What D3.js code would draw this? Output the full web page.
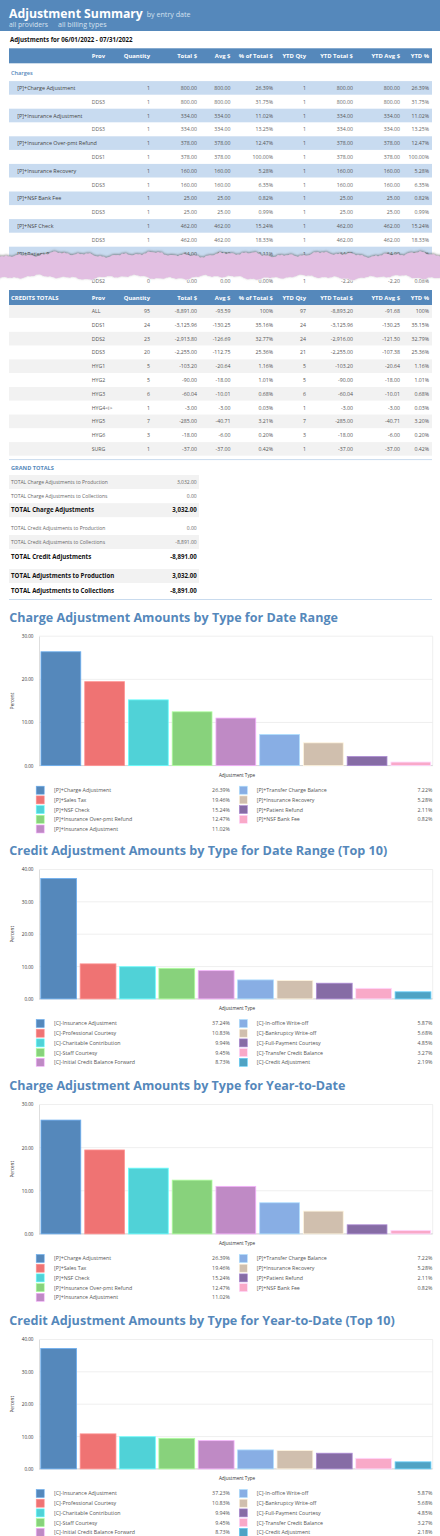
<!DOCTYPE html>
<html><head><meta charset="utf-8">
<script src="https://cdn.jsdelivr.net/npm/d3@7"></script>
<style>
html,body{margin:0;padding:0;background:#fff;}
svg{display:block;font-family:"Open Sans","Noto Sans",sans-serif;}
</style></head><body>
<svg id="c" width="440" height="1536"></svg>
<script>
// ---------------- DATA ----------------
const tableColumns = ["Prov","Quantity","Total $","Avg $","% of Total $","YTD Qty","YTD Total $","YTD Avg $","YTD %"];
const chargeCategories = ["[P]+Charge Adjustment","[P]+Insurance Adjustment","[P]+Insurance Over-pmt Refund","[P]+Insurance Recovery","[P]+NSF Bank Fee","[P]+NSF Check","[P]+Patient Refund"];
const chargeCategoryValues = [
  ["1","800.00","800.00","26.39%","1","800.00","800.00","26.39%"],
  ["1","334.00","334.00","11.02%","1","334.00","334.00","11.02%"],
  ["1","378.00","378.00","12.47%","1","378.00","378.00","12.47%"],
  ["1","160.00","160.00","5.28%","1","160.00","160.00","5.28%"],
  ["1","25.00","25.00","0.82%","1","25.00","25.00","0.82%"],
  ["1","462.00","462.00","15.24%","1","462.00","462.00","15.24%"],
  ["1","64.00","64.00","2.11%","1","64.00","64.00","2.11%"]
];
const chargeProviders = ["DDS3","DDS3","DDS1","DDS3","DDS3","DDS3"];
const chargeProviderValues = [
  ["1","800.00","800.00","31.75%","1","800.00","800.00","31.75%"],
  ["1","334.00","334.00","13.25%","1","334.00","334.00","13.25%"],
  ["1","378.00","378.00","100.00%","1","378.00","378.00","100.00%"],
  ["1","160.00","160.00","6.35%","1","160.00","160.00","6.35%"],
  ["1","25.00","25.00","0.99%","1","25.00","25.00","0.99%"],
  ["1","462.00","462.00","18.33%","1","462.00","462.00","18.33%"]
];
const afterTearProvider = "DDS2";
const afterTearValues = ["0","0.00","0.00","0.00%","1","-2.20","-2.20","0.08%"];

const creditProviders = ["ALL","DDS1","DDS2","DDS3","HYG1","HYG2","HYG3","HYG4<i>","HYG5","HYG6","SURG"];
const creditValues = [
  ["95","-8,891.00","-93.59","100%","97","-8,893.20","-91.68","100%"],
  ["24","-3,125.96","-130.25","35.16%","24","-3,125.96","-130.25","35.15%"],
  ["23","-2,913.80","-126.69","32.77%","24","-2,916.00","-121.50","32.79%"],
  ["20","-2,255.00","-112.75","25.36%","21","-2,255.00","-107.38","25.36%"],
  ["5","-103.20","-20.64","1.16%","5","-103.20","-20.64","1.16%"],
  ["5","-90.00","-18.00","1.01%","5","-90.00","-18.00","1.01%"],
  ["6","-60.04","-10.01","0.68%","6","-60.04","-10.01","0.68%"],
  ["1","-3.00","-3.00","0.03%","1","-3.00","-3.00","0.03%"],
  ["7","-285.00","-40.71","3.21%","7","-285.00","-40.71","3.20%"],
  ["3","-18.00","-6.00","0.20%","3","-18.00","-6.00","0.20%"],
  ["1","-37.00","-37.00","0.42%","1","-37.00","-37.00","0.42%"]
];

const grandLabels = ["TOTAL Charge Adjustments to Production","TOTAL Charge Adjustments to Collections","TOTAL Charge Adjustments","TOTAL Credit Adjustments to Production","TOTAL Credit Adjustments to Collections","TOTAL Credit Adjustments","TOTAL Adjustments to Production","TOTAL Adjustments to Collections"];
const grandValues = ["3,032.00","0.00","3,032.00","0.00","-8,891.00","-8,891.00","3,032.00","-8,891.00"];
const grandBold = [false,false,true,false,false,true,true,true];

const chargeLabels = ["[P]+Charge Adjustment","[P]+Sales Tax","[P]+NSF Check","[P]+Insurance Over-pmt Refund","[P]+Insurance Adjustment","[P]+Transfer Charge Balance","[P]+Insurance Recovery","[P]+Patient Refund","[P]+NSF Bank Fee"];
const chargeRangeValues = [26.39,19.46,15.24,12.47,11.02,7.22,5.28,2.11,0.82];
const chargeYtdValues = [26.39,19.46,15.24,12.47,11.02,7.22,5.28,2.11,0.82];
const creditLabels = ["[C]-Insurance Adjustment","[C]-Professional Courtesy","[C]-Charitable Contribution","[C]-Staff Courtesy","[C]-Initial Credit Balance Forward","[C]-In-office Write-off","[C]-Bankruptcy Write-off","[C]-Full-Payment Courtesy","[C]-Transfer Credit Balance","[C]-Credit Adjustment"];
const creditRangeValues = [37.24,10.83,9.94,9.45,8.73,5.87,5.68,4.85,3.27,2.19];
const creditYtdValues = [37.23,10.83,9.94,9.45,8.73,5.87,5.68,4.85,3.27,2.18];
const chargeTicks = [0,10,20,30];
const creditTicks = [0,10,20,30,40];
const barColors = ["#5588bb","#ef7373","#50d2d7","#88d27c","#bf8ac5","#88aee4","#d0bfae","#866ca5","#f9a9c8","#4fa3c4"];

// ---------------- HELPERS ----------------
const svg = d3.select("#c");
const BLUE = "#5588bb", LIGHTBLUE = "#c8dbf0", GRAY = "#f2f2f2";
function fit(sel, w){
  sel.each(function(){
    const L = this.getComputedTextLength();
    const fs = parseFloat(d3.select(this).attr("font-size"));
    if (L > 0) d3.select(this).attr("font-size", fs * w / L);
  });
  return sel;
}
function txt(g, x, y, s, o = {}){
  return g.append("text").attr("x", x).attr("y", y).text(s)
    .attr("font-size", o.fs || 5.3).attr("fill", o.fill || "#555")
    .attr("font-weight", o.fw || 400).attr("text-anchor", o.anchor || "start");
}

// ---------------- PAGE HEADER ----------------
svg.append("rect").attr("x",0).attr("y",0).attr("width",440).attr("height",31).attr("fill",BLUE);
fit(txt(svg, 9, 17.5, "Adjustment Summary", {fs:14, fill:"#fff", fw:700}), 134);
fit(txt(svg, 146.7, 17, "by entry date", {fs:7, fill:"#d3e0ef"}), 44);
fit(txt(svg, 9, 26.8, "all providers", {fs:6, fill:"#d8e3f0"}), 39);
fit(txt(svg, 58, 26.8, "all billing types", {fs:6, fill:"#d8e3f0"}), 48.7);
fit(txt(svg, 10, 42.3, "Adjustments for 06/01/2022 - 07/31/2022", {fs:6.5, fill:"#111", fw:700}), 122.7);

// ---------------- TABLE ----------------
const colX = [91.7,150,197,230.5,273,306,353,400,429];
const tX0 = 9, tX1 = 432;
function headerBand(yTop, firstLabel){
  svg.append("rect").attr("x",tX0).attr("y",yTop).attr("width",tX1-tX0).attr("height",15).attr("fill",BLUE);
  if (firstLabel) txt(svg, 11, yTop+9.6, firstLabel, {fs:5.9, fill:"#fff", fw:700});
  tableColumns.forEach((c,i)=>{
    txt(svg, colX[i], yTop+9.6, c, {fs:5.9, fill:"#fff", fw:700, anchor: i===0?"start":"end"});
  });
}
function valueCells(yc, vals, fill){
  vals.forEach((v,i)=> txt(svg, colX[i+1], yc+1.9, v, {fs:5.2, fill: fill || "#555", anchor:"end"}));
}
headerBand(48.3, null);
txt(svg, 11, 74.6, "Charges", {fs:5.6, fill:BLUE, fw:600});

const rowH = 13.8, firstRowC = 88;
const gTable = svg.append("g");
chargeCategories.forEach((cat, i)=>{
  const yc = firstRowC + (2*i)*rowH;
  gTable.append("rect").attr("x",tX0).attr("y",yc-6.9).attr("width",tX1-tX0).attr("height",13.6).attr("fill",LIGHTBLUE);
  txt(svg, 17.3, yc+1.9, cat, {fs:5.4, fill:"#444"});
  valueCells(yc, chargeCategoryValues[i], "#555");
  if (i < chargeProviders.length){
    const yp = yc + rowH;
    txt(svg, colX[0], yp+1.9, chargeProviders[i], {fs:5.2, fill:"#666"});
    valueCells(yp, chargeProviderValues[i], "#666");
  }
});
// row after the tear
const afterTearC = 281;
txt(svg, colX[0], afterTearC+1.9, afterTearProvider, {fs:5.2, fill:"#666"});
valueCells(afterTearC, afterTearValues, "#666");

// ---------------- TORN PAPER ----------------
function noise(x, s){
  return 1.5*Math.sin(x*0.071+s) + 1.1*Math.sin(x*0.19+2*s) + 0.7*Math.sin(x*0.53+1+s) + 0.45*Math.sin(x*1.73+3*s);
}
const xs = d3.range(-4, 446, 2);
const topEdge = xs.map(x => [x, 254.6 + noise(x, 0.3)]);
const botEdge = xs.slice().reverse().map(x => [x, 277.2 + noise(x, 1.9)*0.9]);
const defs = svg.append("defs");
const f = defs.append("filter").attr("id","tearShadow").attr("x","-5%").attr("y","-50%").attr("width","110%").attr("height","200%");
f.append("feDropShadow").attr("dx",0).attr("dy",-0.8).attr("stdDeviation",0.9).attr("flood-color","#555").attr("flood-opacity",0.7);
svg.append("path")
  .attr("d", d3.line()(topEdge.concat(botEdge.map(([x,y])=>[x, y+0.8]))) + "Z")
  .attr("fill","#fff");
svg.append("path")
  .attr("d", d3.line()(topEdge.concat(botEdge)) + "Z")
  .attr("fill","#e2bfe2").attr("filter","url(#tearShadow)");

// ---------------- CREDITS TOTALS ----------------
headerBand(290, "CREDITS TOTALS");
const creditRowC = 311.2, creditRowH = 13.78;
creditProviders.forEach((p, i)=>{
  const yc = creditRowC + i*creditRowH;
  if (i % 2 === 0)
    svg.insert("rect", "text").attr("x",tX0).attr("y",yc-6.9).attr("width",tX1-tX0).attr("height",13.6).attr("fill",GRAY);
  txt(svg, colX[0], yc+1.9, p, {fs:5.2, fill:"#555"});
  valueCells(yc, creditValues[i], "#555");
});
svg.append("line").attr("x1",tX0).attr("x2",tX1).attr("y1",459.6).attr("y2",459.6).attr("stroke","#c9dbee").attr("stroke-width",1);

// ---------------- GRAND TOTALS ----------------
txt(svg, 11, 470.4, "GRAND TOTALS", {fs:5.6, fill:BLUE, fw:700});
const grandC = [482, 496, 510.2, 528.3, 542, 556.7, 576, 590.7];
const grandShaded = [true,false,true,false,true,false,true,false];
grandLabels.forEach((l, i)=>{
  const yc = grandC[i];
  if (grandShaded[i])
    svg.append("rect").attr("x",tX0).attr("y",yc-7).attr("width",190).attr("height",14).attr("fill",GRAY);
});
grandLabels.forEach((l, i)=>{
  const yc = grandC[i];
  if (grandBold[i]){
    txt(svg, 11, yc+2.2, l, {fs:6.1, fill:"#111", fw:700});
    txt(svg, 196.7, yc+2.2, grandValues[i], {fs:6.1, fill:"#111", fw:700, anchor:"end"});
  } else {
    txt(svg, 11, yc+1.8, l, {fs:5, fill:"#666"});
    txt(svg, 196.7, yc+1.8, grandValues[i], {fs:5, fill:"#666", anchor:"end"});
  }
});
svg.append("line").attr("x1",tX0).attr("x2",tX1).attr("y1",599.5).attr("y2",599.5).attr("stroke","#c9dbee").attr("stroke-width",1);

// ---------------- CHARTS ----------------
const charts = [
  {title:"Charge Adjustment Amounts by Type for Date Range", tw:329, ty:621.7, labels:chargeLabels, values:chargeRangeValues, ticks:chargeTicks},
  {title:"Credit Adjustment Amounts by Type for Date Range (Top 10)", tw:378.3, ty:855, labels:creditLabels, values:creditRangeValues, ticks:creditTicks},
  {title:"Charge Adjustment Amounts by Type for Year-to-Date", tw:336.4, ty:1090, labels:chargeLabels, values:chargeYtdValues, ticks:chargeTicks},
  {title:"Credit Adjustment Amounts by Type for Year-to-Date (Top 10)", tw:385.7, ty:1325, labels:creditLabels, values:creditYtdValues, ticks:creditTicks}
];
const px0 = 39, px1 = 432.7, pH = 129.4;
charts.forEach(ch => {
  const g = svg.append("g");
  fit(txt(g, 9.3, ch.ty, ch.title, {fs:13, fill:BLUE, fw:700}), ch.tw);
  const top = ch.ty + 14.5, bottom = top + pH;
  const y = d3.scaleLinear().domain([0, d3.max(ch.ticks)]).range([bottom, top]);
  const x = d3.scaleBand().domain(ch.labels).range([px0, px1]).paddingInner(0.09).paddingOuter(0.045);
  g.append("g").selectAll("line").data(ch.ticks).join("line")
    .attr("x1",px0).attr("x2",px1).attr("y1",d=>y(d)).attr("y2",d=>y(d))
    .attr("stroke","#ebebeb").attr("stroke-width",0.8);
  g.append("line").attr("x1",px1).attr("x2",px1).attr("y1",top).attr("y2",bottom).attr("stroke","#ebebeb").attr("stroke-width",0.8);
  const ax = g.append("g").attr("transform",`translate(${px0},0)`)
    .call(d3.axisLeft(y).tickValues(ch.ticks).tickFormat(d3.format(".2f")).tickSize(0).tickPadding(5.5));
  ax.select(".domain").attr("stroke","#d6d6d6").attr("stroke-width",0.8);
  ax.selectAll("text").attr("font-size",4.6).attr("fill","#333").attr("font-family","'Open Sans',sans-serif");
  g.append("line").attr("x1",px0).attr("x2",px1).attr("y1",bottom).attr("y2",bottom).attr("stroke","#cfcfcf").attr("stroke-width",0.8);
  g.append("g").selectAll("rect").data(ch.values).join("rect")
    .attr("x",(d,i)=>x(ch.labels[i])).attr("width",x.bandwidth())
    .attr("y",d=>y(d)).attr("height",d=>bottom - y(d))
    .attr("fill",(d,i)=>barColors[i])
    .attr("stroke",(d,i)=>d3.color(barColors[i]).brighter(0.7).formatHex())
    .attr("stroke-width",0.8);
  g.append("text").attr("transform",`translate(13.8,${(top+bottom)/2}) rotate(-90)`)
    .attr("text-anchor","middle").attr("font-size",4.6).attr("fill","#333").text("Percent");
  txt(g, 237, bottom + 11.5, "Adjustment Type", {fs:4.6, fill:"#333", anchor:"middle"});
  const n = ch.labels.length, half = Math.ceil(n/2);
  const legTop = bottom + 24.6, legStep = 9.7;
  ch.labels.forEach((l, i)=>{
    const col = i < half ? 0 : 1, row = i < half ? i : i - half;
    const yc = legTop + row*legStep;
    const sx = col ? 239.3 : 36.2, lx = col ? 256.7 : 54, vx = col ? 432.3 : 230;
    g.append("rect").attr("x",sx).attr("y",yc-4).attr("width",8).attr("height",8)
      .attr("fill",barColors[i]).attr("stroke",d3.color(barColors[i]).brighter(0.7).formatHex()).attr("stroke-width",0.6);
    txt(g, lx, yc+1.9, l, {fs:5.3, fill:"#555"});
    txt(g, vx, yc+1.9, d3.format(".2f")(ch.values[i]) + "%", {fs:5.3, fill:"#555", anchor:"end"});
  });
});
</script>
</body></html>
